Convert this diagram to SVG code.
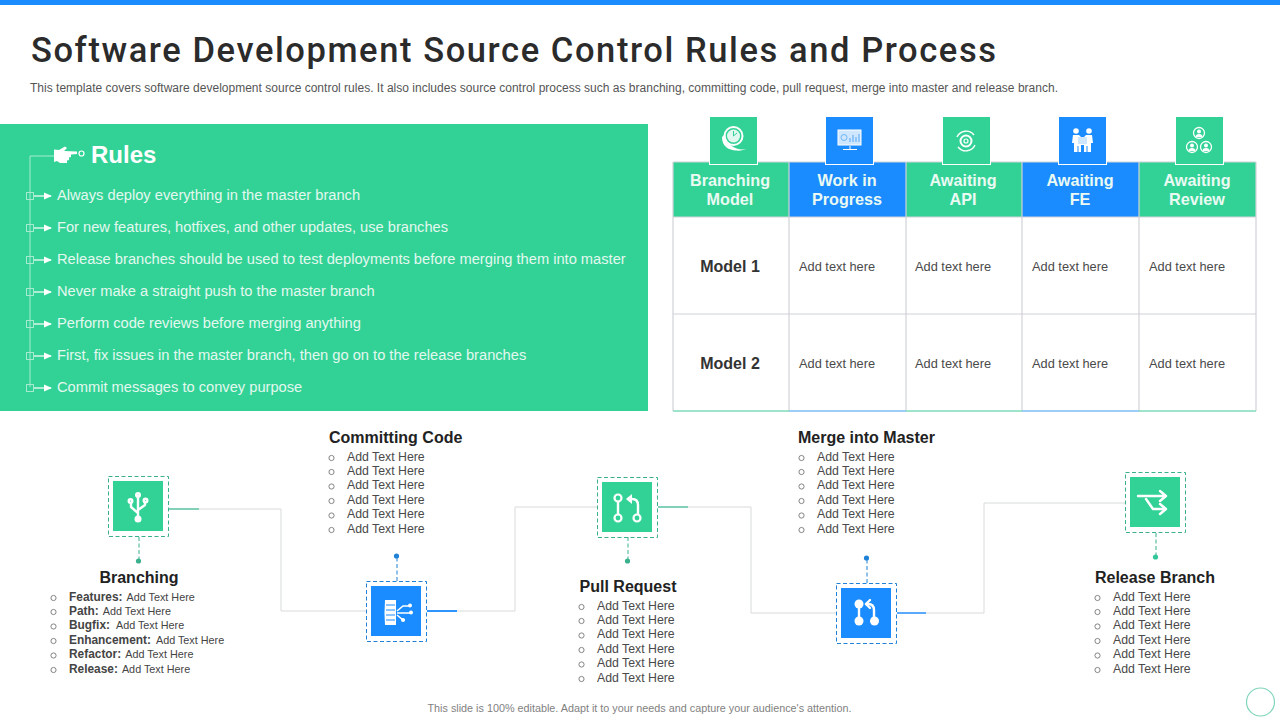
<svg xmlns="http://www.w3.org/2000/svg" width="1280" height="720" viewBox="0 0 1280 720">
<style>
text{font-family:"Liberation Sans",Arial,sans-serif}
.title{font-family:"Roboto","Liberation Sans",sans-serif;font-size:34.500px;font-weight:500;fill:#2b2b2b}
.sub{font-size:12px;fill:#555}
.rule{font-size:14.670px;fill:#e4f8ef}
.th{font-size:16.200px;font-weight:700;fill:#eafaf3;text-anchor:middle}
.rh{font-size:16px;font-weight:700;fill:#333;text-anchor:middle}
.cell{font-size:12.800px;fill:#4a4a4a}
.h{font-size:16px;font-weight:700;fill:#222}
.li{font-size:12.300px;fill:#4a4a4a}
.lb{font-size:11.900px;font-weight:700;fill:#444}
.ls{font-size:10.800px;fill:#444}
.bu{fill:none;stroke:#777;stroke-width:.9}
.g{fill:#32d296}
.b{fill:#1a8cff}
.grid{stroke:#cfd2d8;stroke-width:1.200;fill:none}
.link{fill:none;stroke:#d8dada;stroke-width:1}
.dg{fill:none;stroke:#3bb08d;stroke-width:1;stroke-dasharray:4 2.500}
.db{fill:none;stroke:#1f82d6;stroke-width:1;stroke-dasharray:4 2.500}
.ic{fill:none;stroke:#fff;stroke-width:2.400;stroke-linecap:round;stroke-linejoin:round}
.icf{fill:#fff}
.rl{stroke:#a6ebd0;stroke-width:1;fill:none}
</style>
<defs>
<marker id="arr" markerWidth="7" markerHeight="6" refX="6" refY="3" orient="auto"><path d="M0 0L7 3L0 6z" fill="#fff"/></marker>
<g id="bul"><circle cx="0" cy="0" r="2.600" class="bu"/></g>
</defs>
<rect width="1280" height="5" fill="#1a8cff"/>
<text class="title" x="31" y="62" textLength="965" lengthAdjust="spacing">Software Development Source Control Rules and Process</text>
<text class="sub" x="30" y="92" textLength="1028" lengthAdjust="spacing">This template covers software development source control rules. It also includes source control process such as branching, committing code, pull request, merge into master and release branch.</text>

<g id="rules">
<rect class="g" x="0" y="124" width="648" height="287"/>
<path class="rl" d="M54 156H30V387"/>
<g class="rl">
<rect x="26.500" y="192.500" width="7" height="7"/><rect x="26.500" y="224.500" width="7" height="7"/><rect x="26.500" y="256.500" width="7" height="7"/><rect x="26.500" y="288.500" width="7" height="7"/><rect x="26.500" y="320.500" width="7" height="7"/><rect x="26.500" y="352.500" width="7" height="7"/><rect x="26.500" y="384.500" width="7" height="7"/>
</g>
<g stroke="#fff" stroke-width="1.200">
<path d="M34 196H51" marker-end="url(#arr)"/><path d="M34 228H51" marker-end="url(#arr)"/><path d="M34 260H51" marker-end="url(#arr)"/><path d="M34 292H51" marker-end="url(#arr)"/><path d="M34 324H51" marker-end="url(#arr)"/><path d="M34 356H51" marker-end="url(#arr)"/><path d="M34 388H51" marker-end="url(#arr)"/>
</g>
<path class="icf" d="M54 149.500L59 150L65 146.500L67 148L64 151L77 151.500V154L71 154.500V157L69 157.500V160L67 160.500V163H60L57 161L54 162z"/>
<circle cx="81.500" cy="153.500" r="2.500" fill="none" stroke="#fff" stroke-width="1.200"/>
<text x="91" y="163" font-size="24" font-weight="700" fill="#fff">Rules</text>
<text class="rule" x="57" y="200">Always deploy everything in the master branch</text>
<text class="rule" x="57" y="232">For new features, hotfixes, and other updates, use branches</text>
<text class="rule" x="57" y="264">Release branches should be used to test deployments before merging them into master</text>
<text class="rule" x="57" y="296">Never make a straight push to the master branch</text>
<text class="rule" x="57" y="328">Perform code reviews before merging anything</text>
<text class="rule" x="57" y="360">First, fix issues in the master branch, then go on to the release branches</text>
<text class="rule" x="57" y="392">Commit messages to convey purpose</text>
</g>

<g id="table">
<rect class="g" x="673" y="162" width="116" height="55"/>
<rect class="b" x="789" y="162" width="117" height="55"/>
<rect class="g" x="906" y="162" width="116" height="55"/>
<rect class="b" x="1022" y="162" width="117" height="55"/>
<rect class="g" x="1139" y="162" width="117" height="55"/>
<path class="grid" d="M673 162V411M789 162V411M906 162V411M1022 162V411M1139 162V411M1256 162V411M673 162H1256M673 217H1256M673 314H1256"/>
<path d="M673 411H789M906 411H1022M1139 411H1256" stroke="#7fdcbb" stroke-width="1.500"/>
<path d="M789 411H906M1022 411H1139" stroke="#7dbcf5" stroke-width="1.500"/>
<text class="th" x="730" y="186">Branching</text><text class="th" x="730" y="205">Model</text>
<text class="th" x="847" y="186">Work in</text><text class="th" x="847" y="205">Progress</text>
<text class="th" x="963" y="186">Awaiting</text><text class="th" x="963" y="205">API</text>
<text class="th" x="1080" y="186">Awaiting</text><text class="th" x="1080" y="205">FE</text>
<text class="th" x="1197" y="186">Awaiting</text><text class="th" x="1197" y="205">Review</text>
<text class="rh" x="730" y="272">Model 1</text><text class="rh" x="730" y="369">Model 2</text>
<text class="cell" x="799" y="271">Add text here</text><text class="cell" x="915" y="271">Add text here</text><text class="cell" x="1032" y="271">Add text here</text><text class="cell" x="1149" y="271">Add text here</text>
<text class="cell" x="799" y="368">Add text here</text><text class="cell" x="915" y="368">Add text here</text><text class="cell" x="1032" y="368">Add text here</text><text class="cell" x="1149" y="368">Add text here</text>
</g>

<g id="col-icons">
<g id="icon-branching-model">
<rect class="g" x="709.500" y="116.500" width="48" height="48" stroke="#fff"/>
<circle cx="733.500" cy="136" r="9" fill="none" stroke="#fff" stroke-width="2"/>
<circle cx="733.500" cy="136" r="6.500" class="icf" opacity=".85"/>
<path d="M733.500 131V136L737 133" stroke="#32d296" fill="none"/>
<path class="icf" d="M722 137C722 147 729 150 736 150.500C741 151 744 150 746 149C738 151 726 146 725 134z"/>
</g>
<g id="icon-work">
<rect class="b" x="825.500" y="116.500" width="48" height="48" stroke="#fff"/>
<rect x="838" y="130" width="23" height="15" fill="#cfe6ff" stroke="#fff"/>
<path d="M850 146V149M843 149.500H857" stroke="#fff"/>
<circle cx="844" cy="137.500" r="3" fill="none" stroke="#6fb5f5"/>
<path d="M850 142V138M853 142V135M856 142V137M859 142V134" stroke="#6fb5f5" stroke-width="1.300"/>
</g>
<g id="icon-api">
<rect class="g" x="942.500" y="116.500" width="48" height="48" stroke="#fff"/>
<circle cx="966" cy="141" r="5.500" fill="none" stroke="#fff" stroke-width="2"/><circle cx="966" cy="141" r="2" fill="none" stroke="#fff" stroke-width="1.200"/>
<path d="M957 137A10 10 0 0 1 974 135M975 145A10 10 0 0 1 958 147" fill="none" stroke="#fff" stroke-width="1.400"/>
</g>
<g id="icon-fe">
<rect class="b" x="1058.500" y="116.500" width="48" height="48" stroke="#fff"/>
<circle cx="1076" cy="131" r="2.800" class="icf"/><circle cx="1089" cy="131" r="2.800" class="icf"/>
<path class="icf" d="M1073 135H1079L1081 137H1084L1086 135H1092L1093 143H1091V152H1087.500V146H1086.500V152H1084V145H1081V152H1078.500V146H1077.500V152H1074V143H1072z"/>
<rect x="1078" y="137" width="9" height="7" fill="#cfe6ff"/>
</g>
<g id="icon-review">
<rect class="g" x="1175.500" y="116.500" width="48" height="48" stroke="#fff"/>
<g fill="none" stroke="#fff" stroke-width="1.300"><circle cx="1199" cy="133" r="5.500"/><circle cx="1192" cy="147" r="5.500"/><circle cx="1206" cy="147" r="5.500"/></g>
<g class="icf"><circle cx="1199" cy="131.500" r="2"/><path d="M1195.500 137a3.500 3 0 0 1 7 0z"/><circle cx="1192" cy="145.500" r="2"/><path d="M1188.500 151a3.500 3 0 0 1 7 0z"/><circle cx="1206" cy="145.500" r="2"/><path d="M1202.500 151a3.500 3 0 0 1 7 0z"/></g>
</g>
</g>

<g id="connectors">
<path class="link" d="M168 509H281V611H366"/>
<path class="link" d="M427 611H515V507H597"/>
<path class="link" d="M658 507H751V613H836"/>
<path class="link" d="M897 613H984V503H1125"/>
<path d="M168 509H199" stroke="#3bbf95" stroke-width="1.200"/>
<path d="M427 611H457" stroke="#1a8cff" stroke-width="1.800"/>
<path d="M658 507H688" stroke="#3bbf95" stroke-width="1.200"/>
<path d="M897 613H926" stroke="#1a8cff" stroke-width="1.400"/>
<path class="dg" d="M139 537V561"/><circle cx="138.500" cy="561" r="2.600" fill="#3bb08d"/>
<path class="db" d="M397 581V556"/><circle cx="396.500" cy="556" r="2.600" fill="#1f82d6"/>
<path class="dg" d="M628 537V561"/><circle cx="627.500" cy="561" r="2.600" fill="#3bb08d"/>
<path class="db" d="M867 583V558"/><circle cx="866.500" cy="558" r="2.600" fill="#1f82d6"/>
<path class="dg" d="M1156 533V557"/><circle cx="1155.500" cy="557" r="2.600" fill="#32c79a"/>
</g>

<g id="node-branching">
<rect class="dg" x="108.500" y="476.500" width="60" height="60"/>
<rect class="g" x="113" y="481" width="50" height="50"/>
<g class="ic" stroke-width="1.500">
<path d="M138 496V518M138 513L131 507V503M138 510L145 505V502"/>
<circle cx="138" cy="495" r="1.800"/><circle cx="130.500" cy="501" r="1.800"/><circle cx="145.500" cy="500.500" r="1.800"/>
</g>
<circle cx="138" cy="519" r="3.500" class="icf"/>
<text class="h" x="139" y="583" text-anchor="middle">Branching</text>
<use href="#bul" x="53.500" y="598"/><use href="#bul" x="53.500" y="612"/><use href="#bul" x="53.500" y="626.500"/><use href="#bul" x="53.500" y="641"/><use href="#bul" x="53.500" y="655.500"/><use href="#bul" x="53.500" y="670"/>
<text x="69" y="601"><tspan class="lb">Features:</tspan><tspan class="ls" dx="4">Add Text Here</tspan></text>
<text x="69" y="615"><tspan class="lb">Path:</tspan><tspan class="ls" dx="4">Add Text Here</tspan></text>
<text x="69" y="629"><tspan class="lb">Bugfix:</tspan><tspan class="ls" dx="6">Add Text Here</tspan></text>
<text x="69" y="644"><tspan class="lb">Enhancement:</tspan><tspan class="ls" dx="5">Add Text Here</tspan></text>
<text x="69" y="658"><tspan class="lb">Refactor:</tspan><tspan class="ls" dx="4">Add Text Here</tspan></text>
<text x="69" y="673"><tspan class="lb">Release:</tspan><tspan class="ls" dx="4">Add Text Here</tspan></text>
</g>

<g id="node-committing">
<rect class="db" x="366.500" y="581.500" width="60" height="60"/>
<rect class="b" x="371" y="586" width="50" height="50"/>
<path class="icf" d="M385 600H396V625H385Q384 612.500 385 600z"/>
<path d="M386 605H395M386 610H395M386 615H395M386 620H395" stroke="#1a8cff" stroke-width="1.200"/>
<path d="M397 611L403 606H409M397 613H411M397 615L403 620H405" fill="none" stroke="#fff" stroke-width="1.600"/>
<circle cx="410" cy="605.500" r="2" class="icf"/><circle cx="411" cy="612.500" r="2" class="icf"/><circle cx="403" cy="620" r="2" class="icf"/>
<text class="h" x="329" y="443">Committing Code</text>
<g id="b2"><use href="#bul" x="331.500" y="458"/><use href="#bul" x="331.500" y="472"/><use href="#bul" x="331.500" y="486.500"/><use href="#bul" x="331.500" y="501"/><use href="#bul" x="331.500" y="515.500"/><use href="#bul" x="331.500" y="530"/></g>
<text class="li" x="347" y="461">Add Text Here</text><text class="li" x="347" y="475">Add Text Here</text><text class="li" x="347" y="489">Add Text Here</text><text class="li" x="347" y="504">Add Text Here</text><text class="li" x="347" y="518">Add Text Here</text><text class="li" x="347" y="533">Add Text Here</text>
</g>

<g id="node-pull">
<rect class="dg" x="597.500" y="477.500" width="60" height="60"/>
<rect class="g" x="602" y="482" width="50" height="50"/>
<path class="ic" d="M618 499V517M638 518V505Q638 499 632 499H628"/>
<path class="icf" d="M626 499L632 494V504z"/>
<circle cx="618" cy="498" r="3.500" fill="#32d296" stroke="#fff" stroke-width="2.200"/><circle cx="618" cy="518" r="3.500" fill="#32d296" stroke="#fff" stroke-width="2.200"/><circle cx="637" cy="518" r="3.500" fill="#32d296" stroke="#fff" stroke-width="2.200"/>
<text class="h" x="628" y="592" text-anchor="middle">Pull Request</text>
<use href="#bul" x="581.500" y="607"/><use href="#bul" x="581.500" y="621"/><use href="#bul" x="581.500" y="635.500"/><use href="#bul" x="581.500" y="650"/><use href="#bul" x="581.500" y="664.500"/><use href="#bul" x="581.500" y="679"/>
<text class="li" x="597" y="610">Add Text Here</text><text class="li" x="597" y="624">Add Text Here</text><text class="li" x="597" y="638">Add Text Here</text><text class="li" x="597" y="653">Add Text Here</text><text class="li" x="597" y="667">Add Text Here</text><text class="li" x="597" y="682">Add Text Here</text>
</g>

<g id="node-merge">
<rect class="db" x="836.500" y="583.500" width="60" height="60"/>
<rect class="b" x="841" y="588" width="50" height="50"/>
<path class="ic" d="M859 605V621M874 620V610Q874 604 868 604H866" stroke-width="1.800"/>
<path d="M870 600L866 604L870 608" class="ic" stroke-width="1.800"/>
<circle cx="859" cy="604" r="4.500" class="icf"/><circle cx="859" cy="621" r="4.500" class="icf"/><circle cx="874.500" cy="621" r="4.500" class="icf"/>
<text class="h" x="798" y="443">Merge into Master</text>
<use href="#bul" x="801.500" y="458"/><use href="#bul" x="801.500" y="472"/><use href="#bul" x="801.500" y="486.500"/><use href="#bul" x="801.500" y="501"/><use href="#bul" x="801.500" y="515.500"/><use href="#bul" x="801.500" y="530"/>
<text class="li" x="817" y="461">Add Text Here</text><text class="li" x="817" y="475">Add Text Here</text><text class="li" x="817" y="489">Add Text Here</text><text class="li" x="817" y="504">Add Text Here</text><text class="li" x="817" y="518">Add Text Here</text><text class="li" x="817" y="533">Add Text Here</text>
</g>

<g id="node-release">
<rect class="dg" x="1125.500" y="472.500" width="60" height="60"/>
<rect class="g" x="1130" y="477" width="50" height="50"/>
<path class="ic" stroke-width="2.800" d="M1138 496H1165M1146 499L1153 509H1165M1160 491L1166 496L1160 501M1160 504L1166 509L1160 514"/>
<text class="h" x="1155" y="583" text-anchor="middle">Release Branch</text>
<use href="#bul" x="1097.500" y="598"/><use href="#bul" x="1097.500" y="612"/><use href="#bul" x="1097.500" y="626.500"/><use href="#bul" x="1097.500" y="641"/><use href="#bul" x="1097.500" y="655.500"/><use href="#bul" x="1097.500" y="670"/>
<text class="li" x="1113" y="601">Add Text Here</text><text class="li" x="1113" y="615">Add Text Here</text><text class="li" x="1113" y="629">Add Text Here</text><text class="li" x="1113" y="644">Add Text Here</text><text class="li" x="1113" y="658">Add Text Here</text><text class="li" x="1113" y="673">Add Text Here</text>
</g>

<text x="639.500" y="712" text-anchor="middle" font-size="10.800" fill="#7f7f7f">This slide is 100% editable. Adapt it to your needs and capture your audience's attention.</text>
<circle cx="1260.500" cy="702" r="14" fill="none" stroke="#7fd4bb" stroke-width="1.200"/>
</svg>
